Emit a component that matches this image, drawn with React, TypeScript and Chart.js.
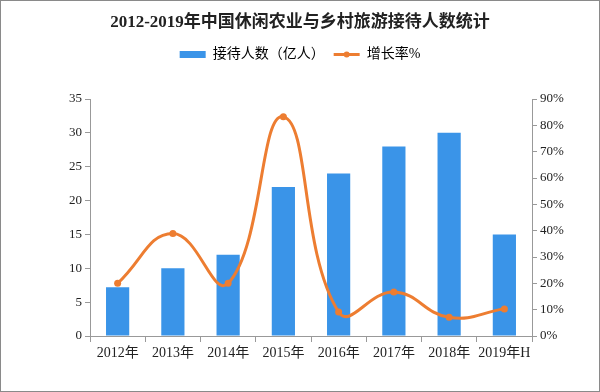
import React, { useEffect, useRef } from "react";
import { Chart, registerables } from "chart.js";

Chart.register(...registerables);

const TITLE = "2012-2019年中国休闲农业与乡村旅游接待人数统计";
const CATEGORIES = ["2012年", "2013年", "2014年", "2015年", "2016年", "2017年", "2018年", "2019年H"];
const VISITORS = [7.2, 10, 12, 22, 24, 28, 30, 15];
const GROWTH = [20, 38.9, 20, 83.3, 9.1, 16.7, 7.1, 10.3];
const LEFT_TICKS = [0, 5, 10, 15, 20, 25, 30, 35];
const RIGHT_TICKS = [0, 10, 20, 30, 40, 50, 60, 70, 80, 90];

const BLUE = "#3A94E8";
const ORANGE = "#ED7D31";
const FONT = "'Liberation Serif', 'Noto Sans CJK SC', serif";

export default function App() {
  const ref = useRef<HTMLCanvasElement | null>(null);
  useEffect(() => {
    document.body.style.margin = "0";
    const canvas = ref.current!;
    const layoutPlugin = {
      id: "layoutPlugin",
      beforeUpdate(chart: any) {
        const lg = chart.legend;
        if (lg && !lg.__patched) {
          const orig = lg.fit;
          lg.fit = function () {
            orig.call(this);
            this.height = 60.6;
          };
          lg.__patched = true;
        }
      },
      afterDraw(chart: any) {
        const ctx = chart.ctx;
        ctx.save();
        ctx.strokeStyle = "#8a8a8a";
        ctx.lineWidth = 1;
        ctx.strokeRect(0.5, 0.5, chart.width - 1, chart.height - 1);
        const legend = chart.legend;
        if (legend && legend.legendHitBoxes && legend.legendHitBoxes[1]) {
          const hb = legend.legendHitBoxes[1];
          const cx = hb.left + 13;
          const cy = hb.top + hb.height / 2;
          ctx.fillStyle = ORANGE;
          ctx.beginPath();
          ctx.arc(cx, cy, 3, 0, Math.PI * 2);
          ctx.fill();
        }
        ctx.restore();
      },
    };
    const chart = new Chart(canvas, {
      type: "bar",
      data: {
        labels: CATEGORIES,
        datasets: [
          {
            type: "bar",
            label: "接待人数（亿人）",
            data: VISITORS,
            backgroundColor: BLUE,
            borderWidth: 0,
            yAxisID: "y",
            barPercentage: 0.42,
            categoryPercentage: 1,
            order: 2,
          } as any,
          {
            type: "line",
            label: "增长率%",
            data: GROWTH,
            borderColor: ORANGE,
            backgroundColor: ORANGE,
            borderWidth: 3,
            tension: 0.45,
            pointRadius: 3.5,
            pointBackgroundColor: ORANGE,
            pointBorderWidth: 0,
            yAxisID: "y1",
            order: 1,
          } as any,
        ],
      },
      options: {
        responsive: false,
        animation: false,
        layout: { padding: { top: 0, bottom: 0, left: 0, right: 0 } },
        plugins: {
          title: {
            display: true,
            text: TITLE,
            color: "#222",
            font: { family: FONT, size: 17, weight: "bold" },
            padding: { top: 12, bottom: 6 },
          },
          legend: {
            display: true,
            labels: {
              usePointStyle: true,
              pointStyleWidth: 26,
              boxHeight: 7,
              color: "#222",
              font: { family: FONT, size: 14 },
              padding: 9,
              generateLabels: (chart: any) =>
                chart.data.datasets.map((ds: any, i: number) => ({
                  text: ds.label,
                  fillStyle: i === 0 ? BLUE : ORANGE,
                  strokeStyle: i === 0 ? BLUE : ORANGE,
                  lineWidth: i === 0 ? 0 : 3,
                  pointStyle: i === 0 ? "rect" : "line",
                  datasetIndex: i,
                  hidden: false,
                })),
            },
          },
          tooltip: { enabled: false },
        },
        scales: {
          x: {
            offset: true,
            grid: {
              display: true,
              offset: true,
              drawOnChartArea: false,
              drawTicks: true,
              tickLength: 6,
              color: "#999",
            },
            border: { display: true, color: "#999", width: 1 },
            ticks: {
              color: "#222",
              font: { family: FONT, size: 14 },
              padding: 3,
              maxRotation: 0,
              autoSkip: false,
            },
            afterFit: (s: any) => {
              s.height = 56;
            },
          },
          y: {
            position: "left",
            min: 0,
            max: 35,
            afterBuildTicks: (s: any) => {
              s.ticks = LEFT_TICKS.map((v) => ({ value: v }));
            },
            grid: { display: true, drawOnChartArea: false, tickLength: 5, color: "#999" },
            border: { display: true, color: "#999" },
            ticks: { color: "#222", font: { family: FONT, size: 13 }, padding: 3 },
            afterFit: (s: any) => {
              s.width = 90;
            },
          },
          y1: {
            position: "right",
            min: 0,
            max: 90,
            afterBuildTicks: (s: any) => {
              s.ticks = RIGHT_TICKS.map((v) => ({ value: v }));
            },
            grid: { display: true, drawOnChartArea: false, tickLength: 5, color: "#999" },
            border: { display: true, color: "#999" },
            ticks: {
              color: "#222",
              font: { family: FONT, size: 13 },
              padding: 3,
              callback: (v: any) => v + "%",
            },
            afterFit: (s: any) => {
              s.width = 68;
            },
          },
        },
      },
      plugins: [layoutPlugin],
    } as any);
    return () => chart.destroy();
  }, []);
  return (
    <div style={{ width: 600, height: 392, background: "#fff" }}>
      <canvas ref={ref} width={600} height={392} style={{ display: "block" }} />
    </div>
  );
}
